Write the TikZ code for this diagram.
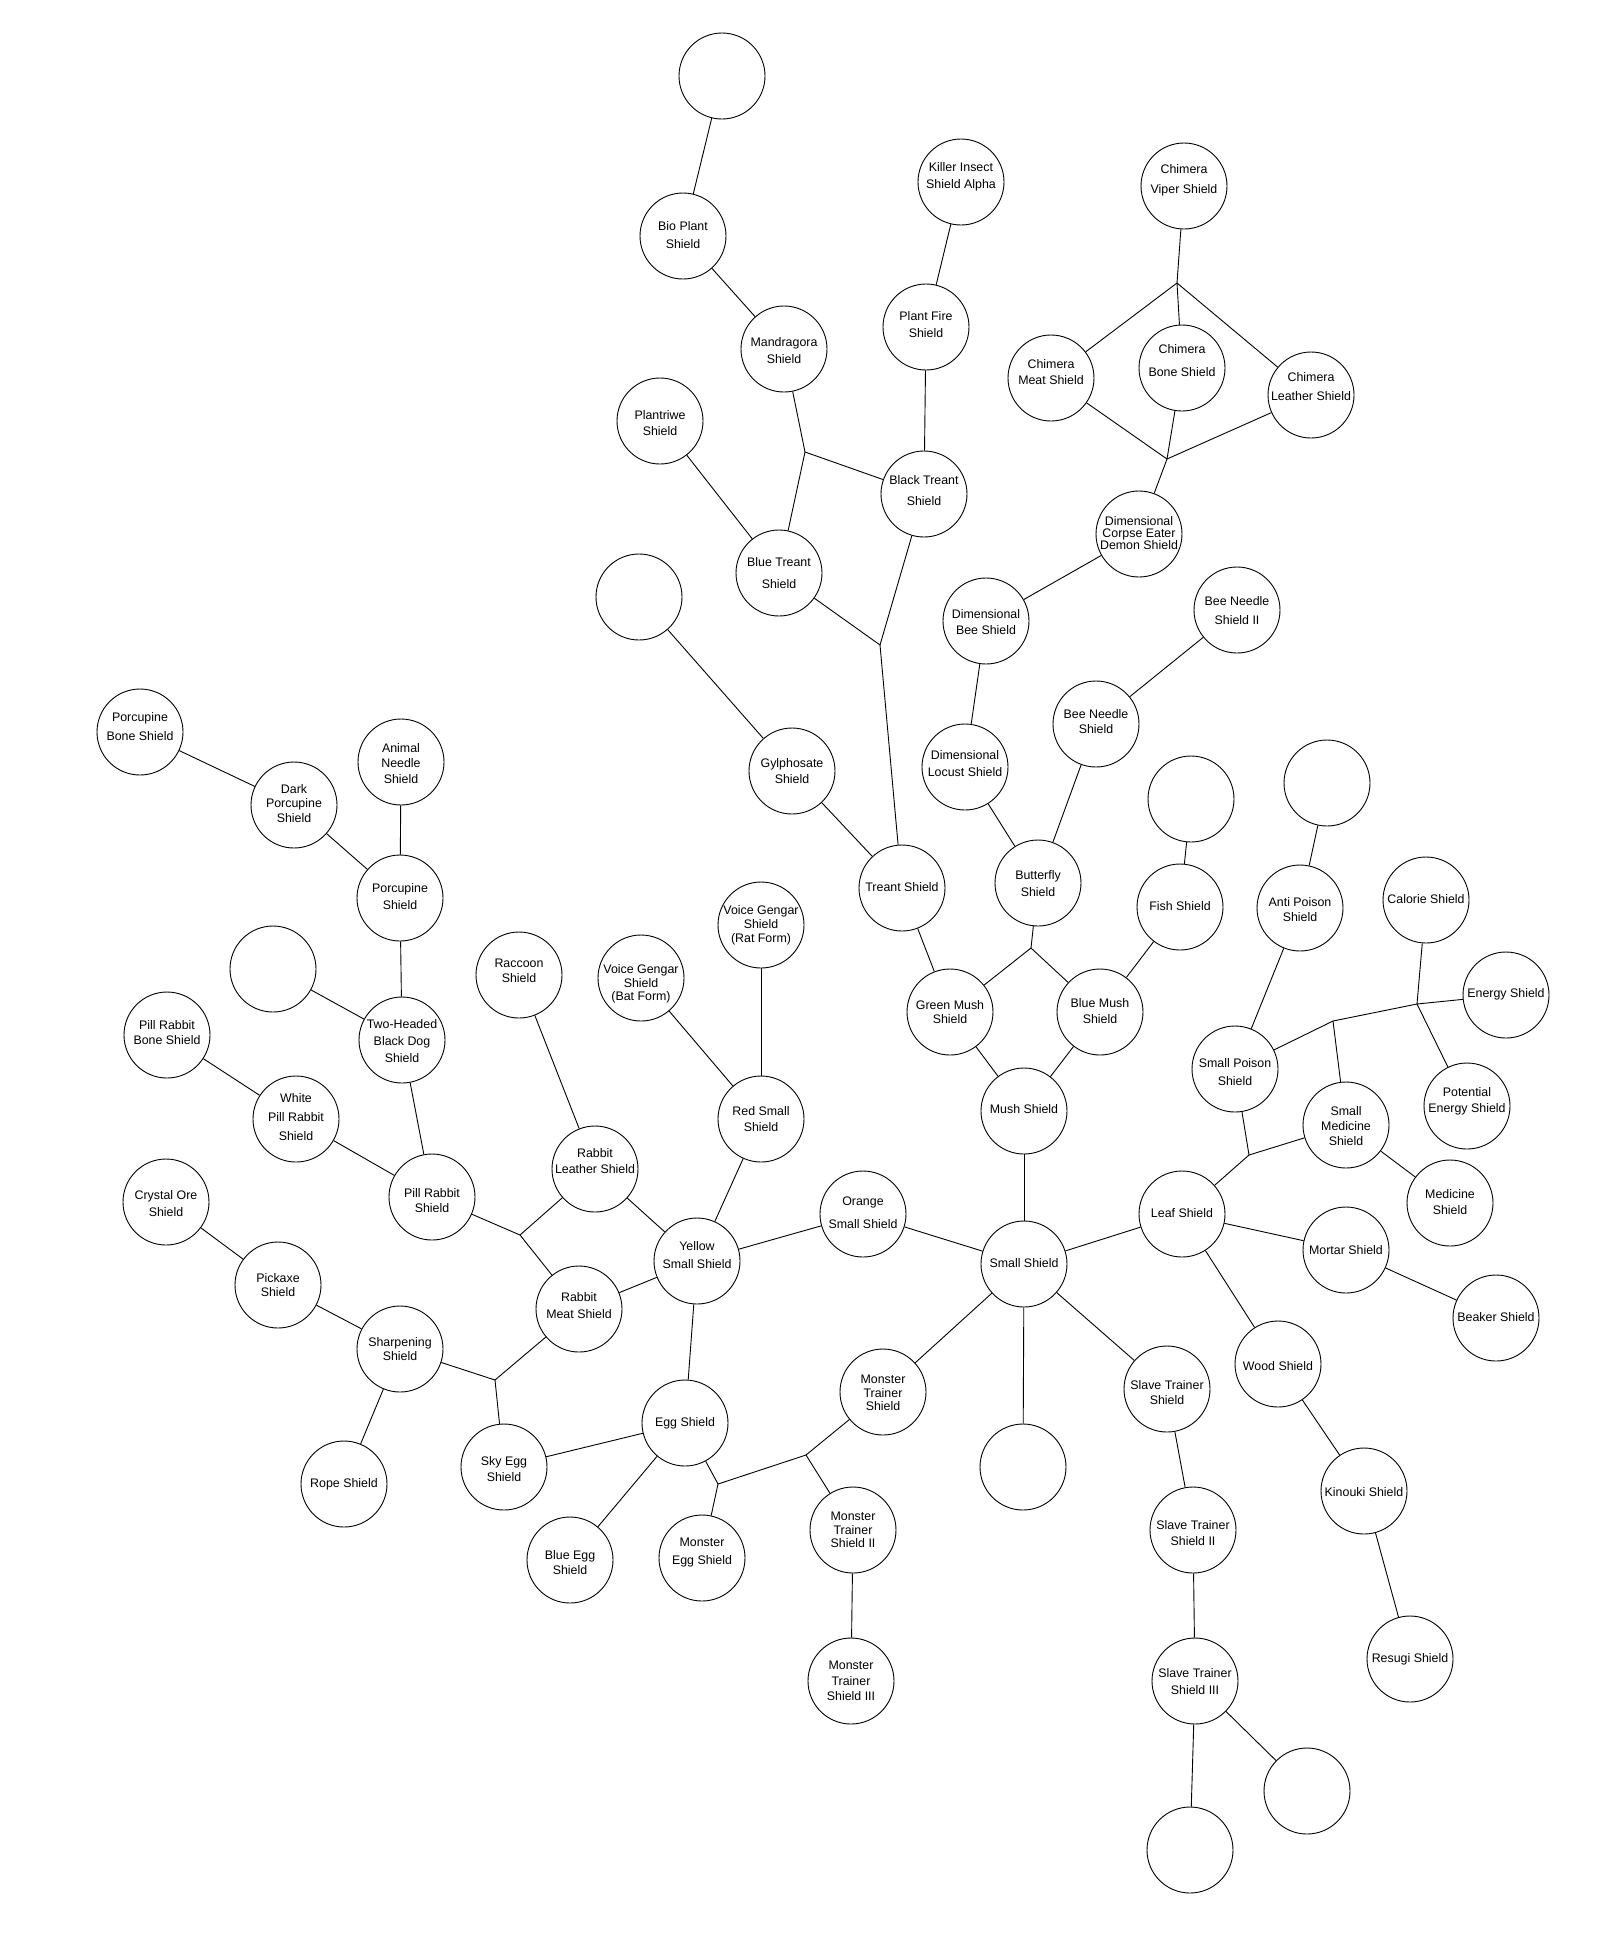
\documentclass[tikz,border=0pt]{standalone}
\usepackage{fontspec}
\setmainfont{Liberation Sans}
\tikzset{
  shield/.style={circle, draw=black, line width=0.9pt, minimum size=86pt, inner sep=0pt},
  txt/.style={align=center, inner sep=0pt, text=black},
  link/.style={draw=black, line width=0.9pt},
}
% #1 name, #2 x, #3 y, #4 line spacing, #5 text shift up, #6 text
\newcommand\shieldat[6]{\node[shield, label={[txt, yshift=#5pt, font=\fontsize{12.4}{#4}\selectfont]center:{#6}}] (#1) at (#2,#3) {};}
\newcommand\emptyat[3]{\node[shield] (#1) at (#2,#3) {};}
\begin{document}
\begin{tikzpicture}[x=1pt,y=-1pt]
\fill[white] (0,0) rectangle (1610,1939);
\useasboundingbox (0,0) rectangle (1610,1939);
% nodes
\emptyat{e1}{722}{76}
\shieldat{bioplant}{683}{236}{17.8}{0.6}{Bio Plant\\Shield}
\shieldat{mandragora}{784}{349}{17.4}{-1.5}{Mandragora\\Shield}
\shieldat{plantriwe}{660}{421}{15.8}{-1.7}{Plantriwe\\Shield}
\shieldat{bluetreant}{779}{573}{22}{0}{Blue Treant\\Shield}
\shieldat{blacktreant}{924}{494}{20.7}{3.7}{Black Treant\\Shield}
\shieldat{plantfire}{926}{327}{17.8}{2.5}{Plant Fire\\Shield}
\shieldat{killer}{961}{182}{17}{5.2}{Killer Insect\\Shield Alpha}
\shieldat{viper}{1184}{186}{19.9}{5.4}{Chimera\\Viper Shield}
\shieldat{cmeat}{1051}{378}{16.6}{5.8}{Chimera\\Meat Shield}
\shieldat{cbone}{1182}{368}{22.8}{7.7}{Chimera\\Bone Shield}
\shieldat{cleather}{1311}{395}{19}{8.7}{Chimera\\Leather Shield}
\shieldat{corpse}{1139}{534}{12}{0.5}{Dimensional\\Corpse Eater\\Demon Shield}
\shieldat{dimbee}{986}{621}{15.8}{-0.8}{Dimensional\\Bee Shield}
\shieldat{beeneedletwo}{1237}{610}{19}{-0.8}{Bee Needle\\Shield II}
\emptyat{e2}{639}{597}
\shieldat{gylpho}{792}{771}{16.6}{0}{Gylphosate\\Shield}
\shieldat{dimlocust}{965}{767}{17}{3.9}{Dimensional\\Locust Shield}
\shieldat{beeneedle}{1096}{724}{15}{2.9}{Bee Needle\\Shield}
\shieldat{treant}{902}{888}{15}{0.8}{Treant Shield}
\shieldat{butterfly}{1038}{883}{17.8}{-0.6}{Butterfly\\Shield}
\emptyat{e3}{1191}{799}
\shieldat{fish}{1180}{907}{15}{1.2}{Fish Shield}
\emptyat{e4}{1327}{783}
\shieldat{antipoison}{1300}{908}{15}{-1.7}{Anti Poison\\Shield}
\shieldat{calorie}{1426}{900}{15}{0.8}{Calorie Shield}
\shieldat{energy}{1506}{995}{15}{0.8}{Energy Shield}
\shieldat{greenmush}{950}{1012}{14}{0}{Green Mush\\Shield}
\shieldat{bluemush}{1100}{1012}{16.2}{0.6}{Blue Mush\\Shield}
\shieldat{mush}{1024}{1111}{15}{2}{Mush Shield}
\shieldat{smallpoison}{1235}{1069}{17.8}{-3.3}{Small Poison\\Shield}
\shieldat{smallmed}{1346}{1125}{15}{-0.6}{Small\\Medicine\\Shield}
\shieldat{potential}{1467}{1106}{15.8}{5}{Potential\\Energy Shield}
\shieldat{medicine}{1450}{1203}{16.2}{0.6}{Medicine\\Shield}
\shieldat{leaf}{1182}{1214}{15}{0.6}{Leaf Shield}
\shieldat{mortar}{1346}{1250}{15}{0}{Mortar Shield}
\shieldat{beaker}{1496}{1318}{15}{0.8}{Beaker Shield}
\shieldat{small}{1024}{1264}{15}{0.8}{Small Shield}
\shieldat{wood}{1278}{1364}{15}{-1.7}{Wood Shield}
\shieldat{kinouki}{1364}{1491}{15}{-1.2}{Kinouki Shield}
\shieldat{resugi}{1410}{1659}{15}{0}{Resugi Shield}
\shieldat{slaveone}{1167}{1389}{15}{-3.7}{Slave Trainer\\Shield}
\shieldat{slavetwo}{1193}{1530}{15.8}{-2.9}{Slave Trainer\\Shield II}
\shieldat{slavethree}{1195}{1681}{17.8}{-0.6}{Slave Trainer\\Shield III}
\emptyat{e5}{1307}{1791}
\emptyat{e6}{1190}{1850}
\emptyat{e7}{1023}{1467}
\shieldat{mtone}{883}{1392}{13.5}{-0.8}{Monster\\Trainer\\Shield}
\shieldat{mttwo}{853}{1530}{13.5}{0}{Monster\\Trainer\\Shield II}
\shieldat{mtthree}{851}{1681}{15.4}{0}{Monster\\Trainer\\Shield III}
\shieldat{orange}{863}{1214}{22.8}{1.5}{Orange\\Small Shield}
\shieldat{yellow}{697}{1261}{17.8}{6}{Yellow\\Small Shield}
\shieldat{red}{761}{1119}{15.8}{0}{Red Small\\Shield}
\shieldat{vgrat}{761}{925}{14}{0}{Voice Gengar\\Shield\\(Rat Form)}
\shieldat{vgbat}{641}{978}{13.5}{-6}{Voice Gengar\\Shield\\(Bat Form)}
\shieldat{raccoon}{519}{975}{15}{4.6}{Raccoon\\Shield}
\shieldat{rleather}{595}{1169}{16.2}{8.3}{Rabbit\\Leather Shield}
\shieldat{rmeat}{579}{1309}{16.2}{3.5}{Rabbit\\Meat Shield}
\shieldat{egg}{685}{1423}{15}{0}{Egg Shield}
\shieldat{megg}{702}{1558}{17.8}{5.6}{Monster\\Egg Shield}
\shieldat{blueegg}{570}{1560}{15.8}{-2.5}{Blue Egg\\Shield}
\shieldat{skyegg}{504}{1467}{15.8}{-1.7}{Sky Egg\\Shield}
\shieldat{sharpen}{400}{1349}{13.7}{0}{Sharpening\\Shield}
\shieldat{rope}{344}{1484}{15}{0}{Rope Shield}
\shieldat{pickaxe}{278}{1285}{13.7}{0}{Pickaxe\\Shield}
\shieldat{crystal}{166}{1202}{17}{-1.9}{Crystal Ore\\Shield}
\shieldat{pillrabbit}{432}{1197}{15}{-3.3}{Pill Rabbit\\Shield}
\shieldat{whitepill}{296}{1119}{19}{2.3}{White\\Pill Rabbit\\Shield}
\shieldat{pillbone}{167}{1035}{15}{2}{Pill Rabbit\\Bone Shield}
\shieldat{twohead}{402}{1040}{17}{-0.8}{Two-Headed\\Black Dog\\Shield}
\emptyat{e8}{273}{969}
\shieldat{porcupine}{400}{898}{16.6}{1.2}{Porcupine\\Shield}
\shieldat{animal}{401}{762}{15.8}{-1.5}{Animal\\Needle\\Shield}
\shieldat{darkpor}{294}{805}{14.5}{1.7}{Dark\\Porcupine\\Shield}
\shieldat{porbone}{140}{732}{19}{5.8}{Porcupine\\Bone Shield}
% junctions
\coordinate (j1) at (805,452);
\coordinate (j2) at (880,645);
\coordinate (j3) at (1177,283);
\coordinate (j4) at (1167,459);
\coordinate (j5) at (1031,948);
\coordinate (j6a) at (1333,1021);
\coordinate (j6b) at (1417,1004);
\coordinate (j7) at (1249,1155);
\coordinate (j8) at (806,1455);
\coordinate (j9) at (718,1484);
\coordinate (j10) at (520,1235);
\coordinate (j11) at (495,1380);
% connectors
\draw[link] (e1) -- (bioplant);
\draw[link] (bioplant) -- (mandragora);
\draw[link] (mandragora) -- (j1);
\draw[link] (j1) -- (bluetreant);
\draw[link] (j1) -- (blacktreant);
\draw[link] (plantriwe) -- (bluetreant);
\draw[link] (killer) -- (plantfire);
\draw[link] (plantfire) -- (blacktreant);
\draw[link] (bluetreant) -- (j2);
\draw[link] (blacktreant) -- (j2);
\draw[link] (j2) -- (treant);
\draw[link] (e2) -- (gylpho);
\draw[link] (gylpho) -- (treant);
\draw[link] (viper) -- (j3);
\draw[link] (j3) -- (cmeat);
\draw[link] (j3) -- (cbone);
\draw[link] (j3) -- (cleather);
\draw[link] (cmeat) -- (j4);
\draw[link] (cbone) -- (j4);
\draw[link] (cleather) -- (j4);
\draw[link] (j4) -- (corpse);
\draw[link] (corpse) -- (dimbee);
\draw[link] (dimbee) -- (dimlocust);
\draw[link] (dimlocust) -- (butterfly);
\draw[link] (beeneedletwo) -- (beeneedle);
\draw[link] (beeneedle) -- (butterfly);
\draw[link] (treant) -- (greenmush);
\draw[link] (butterfly) -- (j5);
\draw[link] (j5) -- (greenmush);
\draw[link] (j5) -- (bluemush);
\draw[link] (e3) -- (fish);
\draw[link] (fish) -- (bluemush);
\draw[link] (greenmush) -- (mush);
\draw[link] (bluemush) -- (mush);
\draw[link] (mush) -- (small);
\draw[link] (e4) -- (antipoison);
\draw[link] (antipoison) -- (smallpoison);
\draw[link] (smallpoison) -- (j6a);
\draw[link] (j6a) -- (j6b);
\draw[link] (j6b) -- (energy);
\draw[link] (calorie) -- (j6b);
\draw[link] (j6b) -- (potential);
\draw[link] (j6a) -- (smallmed);
\draw[link] (smallpoison) -- (j7);
\draw[link] (j7) -- (smallmed);
\draw[link] (j7) -- (leaf);
\draw[link] (smallmed) -- (medicine);
\draw[link] (leaf) -- (small);
\draw[link] (leaf) -- (mortar);
\draw[link] (mortar) -- (beaker);
\draw[link] (leaf) -- (wood);
\draw[link] (wood) -- (kinouki);
\draw[link] (kinouki) -- (resugi);
\draw[link] (small) -- (orange);
\draw[link] (orange) -- (yellow);
\draw[link] (small) -- (mtone);
\draw[link] (small) -- (e7);
\draw[link] (small) -- (slaveone);
\draw[link] (slaveone) -- (slavetwo);
\draw[link] (slavetwo) -- (slavethree);
\draw[link] (slavethree) -- (e6);
\draw[link] (slavethree) -- (e5);
\draw[link] (mtone) -- (j8);
\draw[link] (j8) -- (mttwo);
\draw[link] (mttwo) -- (mtthree);
\draw[link] (j8) -- (j9);
\draw[link] (j9) -- (egg);
\draw[link] (j9) -- (megg);
\draw[link] (yellow) -- (egg);
\draw[link] (egg) -- (skyegg);
\draw[link] (egg) -- (blueegg);
\draw[link] (yellow) -- (red);
\draw[link] (red) -- (vgrat);
\draw[link] (red) -- (vgbat);
\draw[link] (yellow) -- (rleather);
\draw[link] (yellow) -- (rmeat);
\draw[link] (raccoon) -- (rleather);
\draw[link] (rleather) -- (j10);
\draw[link] (rmeat) -- (j10);
\draw[link] (j10) -- (pillrabbit);
\draw[link] (rmeat) -- (j11);
\draw[link] (j11) -- (sharpen);
\draw[link] (j11) -- (skyegg);
\draw[link] (sharpen) -- (rope);
\draw[link] (sharpen) -- (pickaxe);
\draw[link] (pickaxe) -- (crystal);
\draw[link] (pillrabbit) -- (whitepill);
\draw[link] (whitepill) -- (pillbone);
\draw[link] (pillrabbit) -- (twohead);
\draw[link] (twohead) -- (e8);
\draw[link] (twohead) -- (porcupine);
\draw[link] (porcupine) -- (animal);
\draw[link] (porcupine) -- (darkpor);
\draw[link] (darkpor) -- (porbone);
\end{tikzpicture}
\end{document}
